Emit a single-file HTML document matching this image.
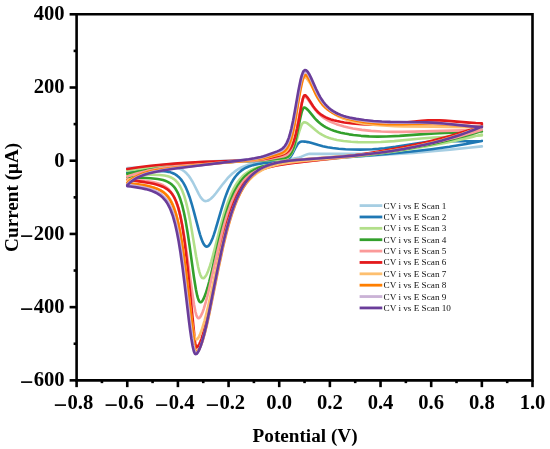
<!DOCTYPE html>
<html><head><meta charset="utf-8"><title>CV</title>
<style>html,body{margin:0;padding:0;background:#fff;}svg{display:block;}</style>
</head><body>
<svg width="550" height="449" viewBox="0 0 550 449">
<rect width="550" height="449" fill="#fff"/>
<g fill="none" stroke-width="2.6" stroke-linejoin="round" stroke-linecap="round">
<path d="M127.26 169.68 141.69 167.47 157.14 165.57 174.11 163.91 192.86 162.47 213.12 161.27 235.91 160.24 259.97 159.39 289.10 158.70 293.66 158.46 296.45 158.11 298.98 157.53 301.51 156.65 306.83 154.41 308.35 153.99 309.62 153.83 342.29 153.90 360.02 153.73 376.74 153.32 417.01 151.97 428.41 151.37 439.30 150.57 481.85 146.51 L481.85 146.30 466.40 148.08 449.93 149.75 432.46 151.32 413.46 152.83 389.15 154.54 362.30 156.20 334.44 157.73 291.13 159.94 278.72 160.67 270.87 161.25 264.53 161.87 259.21 162.55 254.40 163.37 251.36 164.04 248.32 164.86 245.79 165.69 243.26 166.68 240.98 167.74 238.70 168.97 236.42 170.41 234.39 171.89 232.37 173.55 230.59 175.18 228.82 176.97 226.80 179.21 223.25 183.56 215.90 193.28 214.13 195.42 212.61 197.07 210.84 198.72 209.07 200.00 207.55 200.75 206.03 201.09 204.76 200.96 203.49 200.37 202.23 199.27 200.96 197.68 199.95 196.10 198.68 193.85 194.38 185.26 192.35 181.46 190.32 178.12 188.30 175.31 186.52 173.30 184.50 171.46 182.22 169.90 179.94 168.76 177.15 167.82 174.11 167.18 170.57 166.78 166.01 166.60 160.94 166.62 154.36 166.82 127.26 168.06" stroke="#a6cee3"/>
<path d="M127.26 172.57 140.43 170.19 154.61 168.12 170.06 166.30 186.78 164.75 202.73 163.57 220.21 162.53 236.17 161.75 283.02 159.74 285.81 159.48 287.08 159.18 288.34 158.62 289.36 157.90 290.37 156.90 291.38 155.57 292.39 153.93 295.94 147.02 296.95 145.25 297.71 144.12 298.73 142.95 299.74 142.16 300.75 141.71 301.77 141.52 303.03 141.49 304.55 141.59 307.84 142.10 310.88 142.85 318.48 145.05 322.79 146.16 327.60 147.18 332.67 148.00 338.74 148.71 345.58 149.23 352.68 149.54 360.02 149.63 366.35 149.52 372.43 149.26 378.51 148.83 384.59 148.23 395.48 146.79 419.54 142.97 426.38 142.13 432.71 141.57 438.54 141.25 444.87 141.10 469.44 141.26 481.85 141.05 L481.85 140.92 466.14 143.95 449.43 146.71 431.45 149.23 411.94 151.55 387.12 154.03 359.51 156.32 330.39 158.37 286.32 161.10 273.15 162.12 265.04 162.98 258.46 163.96 253.14 165.13 248.83 166.50 246.04 167.71 243.51 169.11 241.23 170.68 238.95 172.63 236.93 174.74 234.90 177.29 232.87 180.33 231.10 183.46 229.33 187.07 227.81 190.56 226.29 194.43 224.52 199.43 221.48 209.05 215.40 229.90 213.88 234.65 212.61 238.20 211.09 241.80 209.57 244.52 208.81 245.49 208.05 246.18 207.29 246.57 206.79 246.65 206.03 246.51 205.52 246.23 204.76 245.54 204.00 244.53 202.73 242.16 201.21 238.28 199.95 234.34 198.68 229.92 193.87 211.56 191.84 204.27 189.56 196.98 187.54 191.45 185.51 186.83 184.50 184.85 183.23 182.65 182.22 181.10 180.95 179.40 178.67 176.93 177.15 175.65 175.63 174.60 174.11 173.74 172.34 172.96 170.57 172.36 168.54 171.86 166.26 171.48 163.98 171.23 158.92 171.03 152.08 171.17 142.96 171.65 127.26 172.71" stroke="#1f78b4"/>
<path d="M127.26 170.77 139.92 168.96 153.34 167.34 167.53 165.91 182.98 164.61 198.68 163.52 215.90 162.53 268.59 160.16 280.74 159.41 283.28 159.11 285.05 158.73 286.32 158.30 287.33 157.81 288.34 157.15 289.10 156.52 290.12 155.45 290.87 154.45 292.39 151.89 293.66 149.11 295.18 145.00 296.45 141.02 299.49 130.71 301.01 126.29 301.77 124.58 302.53 123.33 303.29 122.58 304.05 122.27 304.81 122.28 305.57 122.48 306.58 122.91 307.84 123.66 310.12 125.42 315.70 130.33 318.48 132.51 320.26 133.71 322.28 134.92 324.31 135.97 326.33 136.87 328.61 137.73 331.15 138.53 333.93 139.26 336.97 139.91 343.56 140.95 351.16 141.70 357.99 142.09 365.34 142.28 372.94 142.24 380.79 141.97 394.21 141.09 421.06 138.58 433.47 137.63 444.36 137.06 468.93 136.16 481.85 135.54 L481.85 134.52 473.24 136.68 464.62 138.71 455.51 140.72 446.39 142.62 427.39 146.20 407.38 149.51 394.72 151.39 381.55 153.19 368.13 154.87 353.94 156.51 326.33 159.33 284.54 163.07 273.15 164.34 266.05 165.44 260.23 166.73 257.70 167.46 255.16 168.33 252.88 169.26 250.86 170.23 247.82 172.01 245.03 174.04 242.50 176.31 239.97 179.07 237.69 182.05 235.41 185.58 233.13 189.74 231.10 194.01 229.07 198.88 227.30 203.65 225.53 208.91 223.50 215.49 219.96 228.31 212.86 255.86 211.34 261.28 209.83 266.22 208.05 271.18 207.04 273.54 206.28 275.05 205.52 276.31 204.76 277.30 204.00 277.96 203.24 278.24 202.48 278.09 201.97 277.71 201.21 276.68 200.71 275.69 200.20 274.44 199.44 272.10 198.17 267.03 196.15 256.57 191.84 230.65 190.07 220.63 188.04 210.55 186.27 203.10 184.50 196.94 183.48 193.95 182.47 191.31 181.46 189.00 180.44 186.99 179.43 185.23 178.17 183.37 176.90 181.81 175.38 180.29 173.86 179.08 172.34 178.12 170.57 177.25 168.79 176.59 166.77 176.03 164.49 175.58 159.42 175.03 152.58 174.78 142.20 174.80 127.26 175.07" stroke="#b2df8a"/>
<path d="M127.26 173.83 138.91 171.46 151.57 169.30 164.99 167.42 179.68 165.73 195.39 164.28 212.36 163.02 229.33 162.02 255.67 160.73 263.27 160.23 269.09 159.71 282.01 158.33 284.54 157.92 286.32 157.40 287.58 156.80 288.60 156.11 289.61 155.16 290.37 154.24 291.13 153.10 291.89 151.71 293.41 148.07 294.67 144.04 296.19 138.00 300.25 118.29 301.51 112.91 302.27 110.40 303.03 108.64 303.54 107.92 303.79 107.70 304.30 107.50 304.81 107.55 305.57 107.94 306.58 108.74 307.59 109.72 309.36 111.70 314.68 118.13 316.46 120.04 318.23 121.77 320.00 123.31 321.78 124.67 323.55 125.87 325.57 127.08 328.11 128.39 330.89 129.60 333.93 130.72 337.23 131.74 340.77 132.67 344.82 133.56 349.13 134.34 353.44 134.99 361.03 135.83 369.14 136.38 377.50 136.60 386.36 136.51 399.53 135.88 423.59 134.13 434.74 133.45 444.87 132.98 468.68 132.08 481.85 131.40 L481.85 131.08 473.49 133.60 464.88 136.03 456.01 138.36 447.15 140.53 437.78 142.67 428.41 144.65 418.78 146.54 408.65 148.38 396.24 150.45 383.58 152.36 370.40 154.16 356.47 155.88 343.56 157.32 329.88 158.70 287.84 162.49 281.00 163.23 275.42 163.96 271.37 164.61 267.83 165.30 264.79 166.00 261.75 166.85 258.96 167.79 256.43 168.81 253.90 170.02 251.62 171.31 248.32 173.59 245.28 176.21 242.50 179.18 239.97 182.42 237.43 186.28 234.90 190.85 232.62 195.66 230.34 201.17 228.31 206.72 226.29 212.90 224.26 219.71 222.24 227.13 218.69 241.40 211.09 274.19 209.32 281.28 207.55 287.72 205.52 294.04 203.75 298.41 202.99 299.89 202.23 301.06 201.47 301.88 200.71 302.25 200.20 302.20 199.95 302.07 199.44 301.58 198.93 300.78 198.43 299.65 197.92 298.19 197.16 295.39 195.89 289.28 193.87 276.72 189.56 245.71 187.79 233.69 185.76 221.62 183.99 212.74 182.22 205.42 180.44 199.52 179.43 196.71 178.42 194.26 177.41 192.13 176.39 190.28 175.13 188.31 173.86 186.67 172.34 185.06 170.82 183.76 169.05 182.56 167.27 181.63 165.25 180.80 162.97 180.09 160.44 179.51 157.65 179.04 150.56 178.28 139.92 177.67 127.26 177.30" stroke="#33a02c"/>
<path d="M127.26 176.54 131.82 174.99 136.63 173.53 141.69 172.16 147.01 170.89 152.58 169.71 158.41 168.63 164.49 167.64 170.82 166.74 178.17 165.84 185.76 165.04 202.99 163.59 221.48 162.44 251.62 160.95 260.23 160.32 265.29 159.72 270.61 158.84 282.26 156.59 284.04 156.13 285.56 155.56 286.82 154.87 287.84 154.10 288.85 153.07 289.61 152.08 290.62 150.40 291.38 148.84 292.90 144.82 294.17 140.44 295.69 133.94 297.21 126.29 300.25 109.84 301.77 102.82 302.53 100.07 303.29 97.99 304.05 96.70 304.30 96.47 304.81 96.28 305.31 96.42 305.82 96.80 307.34 98.54 313.67 107.65 315.44 109.96 316.96 111.76 318.74 113.64 320.51 115.29 322.53 116.95 324.56 118.39 327.35 120.10 330.13 121.55 333.17 122.90 336.47 124.16 340.01 125.33 344.06 126.48 348.37 127.52 352.93 128.46 361.79 129.88 371.16 130.91 381.30 131.56 392.44 131.85 402.32 131.84 414.22 131.62 462.35 130.42 481.85 129.74 L481.85 129.71 474.00 132.19 465.89 134.58 457.53 136.90 449.17 139.06 440.31 141.21 431.45 143.22 422.33 145.14 412.96 146.99 400.80 149.20 388.13 151.31 374.96 153.31 361.29 155.21 348.37 156.85 334.69 158.46 290.12 163.24 282.52 164.19 276.44 165.09 272.39 165.82 268.84 166.58 265.55 167.43 262.51 168.38 259.72 169.41 256.94 170.65 254.40 171.99 252.12 173.41 248.83 175.89 247.06 177.46 245.54 178.97 242.75 182.17 239.97 186.00 237.43 190.13 234.90 194.95 232.37 200.56 230.09 206.35 227.81 212.87 225.78 219.31 223.76 226.36 221.48 234.99 217.68 250.82 209.32 288.13 207.55 295.44 205.77 302.15 203.75 308.83 202.73 311.69 201.72 314.17 200.96 315.74 200.20 317.00 199.44 317.87 198.68 318.24 198.17 318.15 197.92 317.99 197.41 317.42 196.91 316.49 196.40 315.19 195.39 311.48 194.12 305.03 192.10 291.94 187.54 258.65 185.51 244.58 183.48 232.03 181.71 222.56 179.94 214.57 177.91 207.14 175.89 201.29 173.86 196.74 172.59 194.45 171.07 192.15 169.55 190.27 168.03 188.72 166.26 187.25 164.49 186.08 162.46 185.00 160.18 184.06 157.65 183.24 154.86 182.54 151.57 181.90 148.02 181.36 143.47 180.81 138.15 180.30 131.31 179.78 127.26 179.58" stroke="#fb9a99"/>
<path d="M127.26 168.97 138.65 167.25 150.81 165.75 163.73 164.46 177.66 163.35 190.58 162.54 204.25 161.85 220.72 161.20 248.58 160.34 254.15 160.07 258.71 159.73 264.03 159.06 269.35 158.02 279.48 155.45 282.01 154.69 283.78 154.03 285.30 153.30 286.82 152.34 288.09 151.28 289.36 149.90 290.62 148.11 291.63 146.31 292.65 144.14 293.66 141.52 295.43 135.75 297.21 128.32 298.73 120.71 301.77 103.83 302.78 99.03 303.54 96.53 304.05 95.59 304.55 95.21 305.06 95.23 305.82 95.69 307.34 97.33 308.86 99.49 313.16 106.20 314.68 108.29 315.95 109.85 317.22 111.24 318.74 112.71 321.52 114.91 323.55 116.19 325.83 117.39 328.36 118.48 330.89 119.39 333.68 120.22 336.97 121.04 340.52 121.77 344.32 122.43 352.68 123.52 361.54 124.28 370.40 124.66 379.02 124.65 385.85 124.37 393.20 123.82 400.04 123.12 414.48 121.44 421.57 120.78 428.15 120.39 434.74 120.29 439.55 120.39 444.87 120.66 469.18 122.65 475.77 123.05 481.85 123.28 L481.85 125.66 474.25 128.38 466.40 131.02 458.29 133.56 450.19 135.95 441.58 138.32 432.96 140.53 424.10 142.65 414.73 144.75 402.57 147.25 390.16 149.59 377.24 151.82 363.57 153.97 350.90 155.81 337.23 157.64 291.13 163.31 282.77 164.51 276.44 165.58 272.39 166.41 268.84 167.28 265.55 168.26 262.51 169.35 259.72 170.56 256.94 172.01 254.40 173.57 252.12 175.23 248.83 178.11 245.79 181.40 242.75 185.41 239.97 189.84 237.18 195.12 234.65 200.74 232.11 207.26 229.83 213.94 227.55 221.46 225.53 228.86 223.50 236.95 221.22 246.83 217.17 266.19 208.56 310.31 206.53 319.83 204.76 327.41 202.48 335.76 201.47 338.87 200.45 341.56 199.44 343.82 198.43 345.60 197.41 346.90 196.65 347.41 196.40 347.39 196.15 347.19 195.89 346.70 195.64 345.87 195.39 344.62 194.88 340.91 187.54 266.84 185.76 250.77 183.99 236.91 182.22 225.45 180.44 216.27 179.43 211.94 178.42 208.19 177.41 204.96 176.14 201.54 174.87 198.70 173.61 196.35 172.09 194.05 170.57 192.19 168.79 190.46 167.02 189.07 164.99 187.82 162.72 186.69 160.18 185.70 157.14 184.74 153.60 183.84 149.54 183.00 144.73 182.16 139.16 181.35 132.57 180.53 127.26 179.98" stroke="#e31a1c"/>
<path d="M127.26 180.43 131.31 178.66 135.61 176.96 140.17 175.37 144.99 173.88 149.80 172.55 155.12 171.26 160.69 170.06 166.51 168.96 173.35 167.83 180.95 166.74 189.06 165.73 197.67 164.80 216.41 163.10 247.82 160.71 256.94 159.73 262.00 158.89 266.81 157.78 274.66 155.59 281.25 153.87 283.02 153.26 284.54 152.51 285.81 151.60 286.82 150.60 287.84 149.27 288.60 148.00 289.61 145.86 290.37 143.86 291.89 138.67 293.41 131.70 294.93 122.87 296.19 114.29 299.23 92.13 300.50 84.31 301.26 80.73 302.02 78.26 302.78 76.93 303.03 76.70 303.54 76.50 304.05 76.55 304.55 76.75 305.57 77.44 306.83 78.66 308.10 80.21 310.38 83.63 316.71 94.50 320.00 99.65 321.78 102.12 323.80 104.68 325.57 106.69 327.60 108.74 329.88 110.78 332.16 112.55 334.69 114.26 337.23 115.74 340.01 117.14 343.05 118.45 346.34 119.65 349.64 120.67 353.18 121.60 357.23 122.50 361.29 123.25 365.85 123.95 370.66 124.55 375.72 125.05 386.87 125.81 394.97 126.13 404.09 126.33 433.22 126.59 466.40 127.13 481.85 127.25 L481.85 126.87 474.25 129.80 466.65 132.51 458.80 135.11 450.69 137.59 442.34 139.95 433.72 142.18 425.11 144.23 416.00 146.22 404.60 148.47 392.69 150.56 380.28 152.50 367.37 154.29 355.21 155.78 342.04 157.23 298.47 161.41 290.37 162.39 283.78 163.40 279.22 164.27 275.17 165.22 271.37 166.30 267.83 167.53 264.53 168.89 261.49 170.40 258.71 172.02 255.92 173.93 252.38 176.84 250.60 178.54 248.83 180.42 245.79 184.12 242.75 188.52 239.71 193.72 236.93 199.28 234.14 205.71 231.61 212.36 229.07 219.82 226.80 227.26 224.52 235.38 221.98 245.17 217.68 263.41 208.56 304.58 206.53 313.05 204.51 320.83 202.23 328.47 200.96 332.10 199.95 334.63 198.93 336.77 198.17 338.06 197.41 338.99 196.65 339.41 196.15 339.33 195.64 338.89 195.14 338.04 194.63 336.74 193.62 332.69 192.60 326.81 191.08 315.49 186.78 279.17 184.50 260.95 182.47 246.37 180.44 233.81 178.67 224.60 176.65 216.02 175.63 212.44 174.62 209.28 173.61 206.50 172.59 204.05 171.33 201.42 170.06 199.19 168.54 196.97 167.02 195.14 165.25 193.41 163.48 192.01 161.45 190.74 159.17 189.62 156.64 188.64 153.85 187.79 150.56 187.01 147.01 186.35 142.45 185.67 137.13 185.04 131.06 184.47 127.26 184.25" stroke="#fdbf6f"/>
<path d="M127.26 182.85 129.79 180.60 132.32 178.72 135.36 176.85 138.40 175.33 141.69 173.98 145.49 172.71 149.54 171.62 154.10 170.62 158.66 169.80 163.98 168.98 177.41 167.32 195.64 165.42 242.25 160.87 249.84 160.05 255.67 159.30 262.25 158.18 268.59 156.70 279.22 153.76 281.25 153.02 283.02 152.12 284.29 151.23 285.56 150.03 286.57 148.79 287.58 147.23 288.60 145.28 289.61 142.90 290.62 140.03 291.38 137.53 292.90 131.59 294.67 123.12 296.19 114.76 299.74 93.90 300.75 88.45 301.77 83.65 302.78 79.71 303.79 76.84 304.55 75.49 305.06 75.00 305.57 74.83 306.07 74.96 306.83 75.60 307.59 76.61 308.60 78.35 310.12 81.52 314.68 91.97 316.20 95.07 317.72 97.85 318.99 99.92 320.51 102.13 322.03 104.07 323.55 105.78 325.57 107.75 327.85 109.64 330.39 111.42 332.92 112.93 335.71 114.35 339.00 115.78 342.54 117.10 346.34 118.30 350.14 119.34 353.94 120.24 357.99 121.08 362.30 121.84 371.16 123.04 380.54 123.84 387.63 124.16 394.97 124.26 402.32 124.19 421.57 123.76 433.22 123.84 444.62 124.36 470.20 126.14 481.85 126.64 L481.85 126.39 474.00 129.52 466.14 132.41 458.04 135.15 449.68 137.76 441.07 140.21 432.21 142.51 423.09 144.66 413.97 146.60 402.32 148.82 390.41 150.79 378.00 152.58 365.09 154.17 352.68 155.48 339.76 156.64 297.46 159.76 290.12 160.51 283.78 161.38 279.48 162.17 275.42 163.10 271.63 164.19 268.08 165.44 264.79 166.86 261.75 168.44 258.96 170.16 256.18 172.19 254.40 173.67 252.63 175.32 249.34 178.87 246.30 182.83 243.26 187.55 240.47 192.66 237.69 198.62 234.90 205.52 232.37 212.69 230.09 219.93 227.81 227.93 225.53 236.70 223.00 247.32 218.69 267.21 209.57 312.46 207.29 322.90 205.27 331.32 202.99 339.49 201.72 343.32 200.71 345.97 199.44 348.72 198.43 350.45 197.16 351.98 196.65 352.31 196.40 352.36 196.15 352.28 195.89 352.02 195.39 350.74 194.63 346.51 186.02 272.67 183.99 256.88 181.96 243.01 179.94 231.31 177.91 221.73 176.90 217.68 175.63 213.23 174.62 210.11 173.35 206.72 172.09 203.81 170.57 200.86 169.05 198.41 167.53 196.37 165.75 194.40 163.73 192.60 161.70 191.15 159.42 189.84 156.89 188.68 154.10 187.66 150.81 186.69 147.27 185.85 142.96 185.02 138.15 184.25 131.82 183.42 127.26 182.94" stroke="#ff7f00"/>
<path d="M127.26 184.41 129.54 182.29 132.07 180.29 134.85 178.47 137.89 176.82 141.19 175.37 144.73 174.08 148.78 172.88 153.09 171.83 157.65 170.91 162.72 170.02 175.89 168.14 194.12 165.92 241.23 160.52 249.08 159.52 254.91 158.65 261.24 157.40 267.07 155.81 277.96 152.13 279.98 151.29 281.76 150.34 283.02 149.44 284.29 148.26 285.30 147.06 286.32 145.55 287.33 143.69 288.34 141.42 289.36 138.68 290.12 136.30 291.89 129.58 293.66 121.27 295.18 113.09 298.98 91.23 299.99 85.94 301.01 81.26 302.27 76.55 303.29 73.88 303.79 72.95 304.30 72.29 304.81 71.89 305.31 71.75 306.07 71.94 306.83 72.52 307.59 73.40 308.60 74.93 310.38 78.34 315.19 89.15 317.98 94.81 319.50 97.51 321.27 100.31 322.79 102.42 324.56 104.59 326.33 106.48 328.36 108.35 330.64 110.14 332.92 111.66 335.45 113.09 338.24 114.43 341.28 115.65 344.32 116.68 347.61 117.63 350.90 118.44 358.50 119.91 367.11 121.12 376.48 122.01 384.34 122.47 392.44 122.73 400.29 122.80 420.55 122.76 426.89 122.87 432.96 123.10 443.60 123.78 468.68 126.06 481.85 127.00 L481.85 126.55 474.25 129.65 466.40 132.59 458.29 135.38 450.19 137.93 441.58 140.40 432.96 142.65 424.10 144.74 414.73 146.74 403.08 148.95 391.17 150.91 378.76 152.68 365.85 154.25 353.44 155.55 340.26 156.72 296.95 159.92 289.36 160.69 283.02 161.56 278.46 162.40 274.41 163.33 270.61 164.43 267.32 165.60 264.03 167.01 260.99 168.59 258.20 170.31 255.42 172.35 253.64 173.83 251.87 175.49 248.58 179.07 245.54 183.06 242.50 187.83 239.71 193.00 236.93 199.04 234.14 206.04 231.61 213.32 229.33 220.67 227.05 228.79 224.77 237.70 222.24 248.47 217.93 268.66 208.81 314.41 206.79 323.79 204.76 332.34 202.48 340.66 201.21 344.56 200.20 347.27 198.93 350.08 197.92 351.85 196.91 353.09 196.40 353.43 196.15 353.48 195.64 353.23 195.14 352.38 194.38 349.83 193.36 344.68 192.10 336.75 189.56 317.84 183.48 267.47 181.46 252.74 179.68 241.51 177.91 231.90 175.89 222.81 173.86 215.51 172.85 212.44 171.58 209.08 170.31 206.19 168.79 203.24 167.27 200.78 165.75 198.72 163.98 196.72 162.21 195.09 160.18 193.55 157.90 192.17 155.62 191.04 152.84 189.93 149.80 188.95 146.25 188.03 141.95 187.11 137.13 186.28 130.80 185.36 127.26 184.99" stroke="#cab2d6"/>
<path d="M127.26 185.25 129.54 183.08 132.07 181.05 134.85 179.18 137.89 177.50 140.93 176.12 144.48 174.78 148.53 173.53 152.84 172.43 157.40 171.46 162.46 170.53 175.38 168.56 193.36 166.21 240.73 160.34 248.58 159.27 254.40 158.33 260.73 157.00 263.52 156.24 266.56 155.29 277.20 151.36 279.48 150.36 281.25 149.37 282.52 148.44 283.78 147.24 284.80 146.02 285.81 144.51 286.82 142.64 287.84 140.37 288.85 137.62 289.61 135.24 291.38 128.51 293.15 120.20 294.67 112.02 298.47 90.16 300.50 80.15 301.77 75.36 302.78 72.59 303.29 71.59 303.79 70.85 304.30 70.37 305.06 70.07 305.82 70.19 306.83 70.86 307.84 71.99 309.11 73.93 310.88 77.37 315.95 88.74 318.74 94.40 320.26 97.12 321.78 99.57 323.29 101.76 325.07 104.01 326.84 105.97 328.87 107.91 330.89 109.56 333.17 111.14 335.45 112.48 337.98 113.75 340.77 114.91 343.56 115.89 346.34 116.73 349.38 117.50 356.22 118.87 364.33 120.03 373.44 120.94 381.80 121.50 390.41 121.86 398.77 122.02 419.79 122.20 426.38 122.38 432.46 122.67 443.86 123.53 468.93 126.09 481.85 127.19 L481.85 126.64 474.25 129.77 466.65 132.64 458.55 135.45 450.44 138.02 442.08 140.43 433.47 142.69 424.61 144.80 415.24 146.80 403.58 149.00 391.68 150.96 379.27 152.72 366.10 154.32 353.69 155.60 340.52 156.77 296.95 159.98 289.10 160.77 282.77 161.63 278.21 162.46 274.16 163.38 270.36 164.46 266.81 165.71 263.52 167.13 260.48 168.72 257.70 170.45 254.91 172.50 253.14 173.99 251.36 175.66 249.59 177.52 248.07 179.28 245.03 183.31 241.99 188.14 239.21 193.37 236.42 199.48 233.63 206.58 231.10 213.95 228.82 221.39 226.54 229.62 224.26 238.64 221.73 249.55 217.42 269.95 208.56 314.76 206.28 325.36 204.25 333.88 201.97 342.12 200.71 345.96 199.69 348.61 198.68 350.84 197.67 352.62 196.65 353.82 195.89 354.18 195.39 354.05 195.14 353.86 194.63 353.17 194.12 352.05 193.62 350.49 192.60 346.07 191.34 338.64 190.07 329.75 188.80 319.88 184.50 283.46 182.47 267.18 180.44 252.63 178.67 241.60 176.90 232.19 174.87 223.31 172.85 216.18 170.82 210.52 169.55 207.60 168.03 204.62 166.51 202.13 164.99 200.04 163.22 198.02 161.45 196.35 159.42 194.79 157.14 193.37 154.86 192.22 152.08 191.08 149.04 190.08 145.49 189.12 141.44 188.23 136.63 187.36 130.55 186.44 127.26 186.10" stroke="#6a3d9a"/>
</g>
<g stroke="#000" stroke-width="2.6" fill="none" stroke-linecap="square">
<path d="M76.60 14.30H532.50V380.35H76.60Z" stroke-linecap="butt" stroke-linejoin="miter"/>
<path d="M76.60 380.35V387.15" stroke-linecap="butt"/>
<path d="M101.93 380.35V383.15" stroke-linecap="butt"/>
<path d="M127.26 380.35V387.15" stroke-linecap="butt"/>
<path d="M152.58 380.35V383.15" stroke-linecap="butt"/>
<path d="M177.91 380.35V387.15" stroke-linecap="butt"/>
<path d="M203.24 380.35V383.15" stroke-linecap="butt"/>
<path d="M228.57 380.35V387.15" stroke-linecap="butt"/>
<path d="M253.90 380.35V383.15" stroke-linecap="butt"/>
<path d="M279.22 380.35V387.15" stroke-linecap="butt"/>
<path d="M304.55 380.35V383.15" stroke-linecap="butt"/>
<path d="M329.88 380.35V387.15" stroke-linecap="butt"/>
<path d="M355.21 380.35V383.15" stroke-linecap="butt"/>
<path d="M380.54 380.35V387.15" stroke-linecap="butt"/>
<path d="M405.86 380.35V383.15" stroke-linecap="butt"/>
<path d="M431.19 380.35V387.15" stroke-linecap="butt"/>
<path d="M456.52 380.35V383.15" stroke-linecap="butt"/>
<path d="M481.85 380.35V387.15" stroke-linecap="butt"/>
<path d="M507.18 380.35V383.15" stroke-linecap="butt"/>
<path d="M532.50 380.35V387.15" stroke-linecap="butt"/>
<path d="M76.60 14.30H69.60" stroke-linecap="butt"/>
<path d="M76.60 50.91H73.60" stroke-linecap="butt"/>
<path d="M76.60 87.51H69.60" stroke-linecap="butt"/>
<path d="M76.60 124.11H73.60" stroke-linecap="butt"/>
<path d="M76.60 160.72H69.60" stroke-linecap="butt"/>
<path d="M76.60 197.33H73.60" stroke-linecap="butt"/>
<path d="M76.60 233.93H69.60" stroke-linecap="butt"/>
<path d="M76.60 270.54H73.60" stroke-linecap="butt"/>
<path d="M76.60 307.14H69.60" stroke-linecap="butt"/>
<path d="M76.60 343.75H73.60" stroke-linecap="butt"/>
<path d="M76.60 380.35H69.60" stroke-linecap="butt"/>
</g>
<g font-family="Liberation Serif, serif" font-weight="bold" font-size="20.6" fill="#000">
<text x="64.6" y="20.10" text-anchor="end">400</text>
<text x="64.6" y="93.31" text-anchor="end">200</text>
<text x="64.6" y="166.52" text-anchor="end">0</text>
<text x="64.6" y="239.73" text-anchor="end"><tspan font-size="24" dy="3.9">&#8722;</tspan><tspan dy="-3.9">200</tspan></text>
<text x="64.6" y="312.94" text-anchor="end"><tspan font-size="24" dy="3.9">&#8722;</tspan><tspan dy="-3.9">400</tspan></text>
<text x="64.6" y="386.15" text-anchor="end"><tspan font-size="24" dy="3.9">&#8722;</tspan><tspan dy="-3.9">600</tspan></text>
<text x="93.20" y="408.6" text-anchor="end"><tspan font-size="24" dy="3.9">&#8722;</tspan><tspan dy="-3.9">0.8</tspan></text>
<text x="143.86" y="408.6" text-anchor="end"><tspan font-size="24" dy="3.9">&#8722;</tspan><tspan dy="-3.9">0.6</tspan></text>
<text x="194.51" y="408.6" text-anchor="end"><tspan font-size="24" dy="3.9">&#8722;</tspan><tspan dy="-3.9">0.4</tspan></text>
<text x="245.17" y="408.6" text-anchor="end"><tspan font-size="24" dy="3.9">&#8722;</tspan><tspan dy="-3.9">0.2</tspan></text>
<text x="279.22" y="408.6" text-anchor="middle">0.0</text>
<text x="329.88" y="408.6" text-anchor="middle">0.2</text>
<text x="380.54" y="408.6" text-anchor="middle">0.4</text>
<text x="431.19" y="408.6" text-anchor="middle">0.6</text>
<text x="481.85" y="408.6" text-anchor="middle">0.8</text>
<text x="532.50" y="408.6" text-anchor="middle">1.0</text>
</g>
<g font-family="Liberation Serif, serif" font-weight="bold" font-size="19.2" fill="#000">
<text x="305.1" y="441.9" text-anchor="middle">Potential (V)</text>
<text transform="translate(18.4 197.35) rotate(-90)" text-anchor="middle">Current (&#956;A)</text>
</g>
<g font-family="Liberation Serif, serif" font-size="9.2" fill="#111">
<path d="M359.6 205.60H382.3" stroke="#a6cee3" stroke-width="2.8"/>
<text x="383.5" y="208.55">CV i vs E Scan 1</text>
<path d="M359.6 216.97H382.3" stroke="#1f78b4" stroke-width="2.8"/>
<text x="383.5" y="219.92">CV i vs E Scan 2</text>
<path d="M359.6 228.34H382.3" stroke="#b2df8a" stroke-width="2.8"/>
<text x="383.5" y="231.29">CV i vs E Scan 3</text>
<path d="M359.6 239.71H382.3" stroke="#33a02c" stroke-width="2.8"/>
<text x="383.5" y="242.66">CV i vs E Scan 4</text>
<path d="M359.6 251.08H382.3" stroke="#fb9a99" stroke-width="2.8"/>
<text x="383.5" y="254.03">CV i vs E Scan 5</text>
<path d="M359.6 262.45H382.3" stroke="#e31a1c" stroke-width="2.8"/>
<text x="383.5" y="265.40">CV i vs E Scan 6</text>
<path d="M359.6 273.82H382.3" stroke="#fdbf6f" stroke-width="2.8"/>
<text x="383.5" y="276.77">CV i vs E Scan 7</text>
<path d="M359.6 285.19H382.3" stroke="#ff7f00" stroke-width="2.8"/>
<text x="383.5" y="288.14">CV i vs E Scan 8</text>
<path d="M359.6 296.56H382.3" stroke="#cab2d6" stroke-width="2.8"/>
<text x="383.5" y="299.51">CV i vs E Scan 9</text>
<path d="M359.6 307.93H382.3" stroke="#6a3d9a" stroke-width="2.8"/>
<text x="383.5" y="310.88">CV i vs E Scan 10</text>
</g>
</svg>
</body></html>
